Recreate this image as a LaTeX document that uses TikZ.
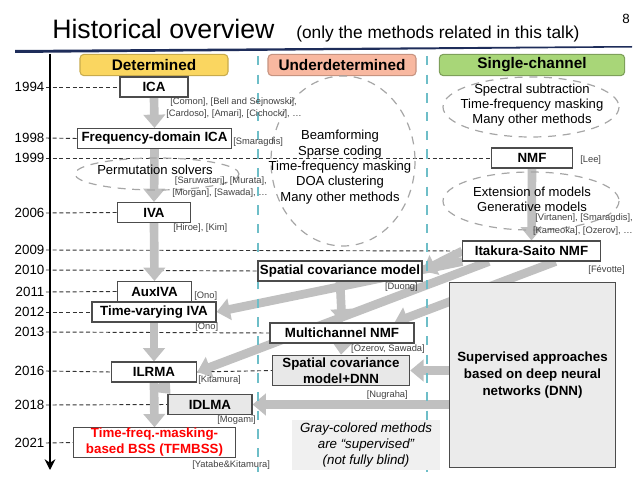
\documentclass[tikz,border=0pt]{standalone}
\usepackage{fontspec}
\setmainfont{Liberation Sans}
\usetikzlibrary{arrows.meta,shapes.geometric}
\pgfdeclarelayer{bg}
\pgfsetlayers{bg,main}
\definecolor{garrow}{RGB}{192,192,192}
\definecolor{cyanl}{RGB}{110,190,200}
\definecolor{hyel}{RGB}{250,214,96}
\definecolor{hred}{RGB}{248,184,160}
\definecolor{hgrn}{RGB}{168,214,120}
\definecolor{navy}{RGB}{30,45,90}
\begin{document}
\begin{tikzpicture}[x=0.75pt,y=-0.75pt,
  box/.style={draw=black!70,fill=white,line width=0.8pt,font=\bfseries\fontsize{10}{11}\selectfont,inner sep=0pt,align=center},
  gbox/.style={box,fill=black!9},
  hdr/.style={rounded corners=3pt,line width=0.8pt,font=\bfseries\fontsize{11.5}{13}\selectfont,minimum width=111pt,minimum height=16pt,inner sep=0pt},
  yr/.style={anchor=east,font=\fontsize{10}{11}\selectfont,inner sep=1pt},
  ref/.style={font=\fontsize{7}{7.5}\selectfont,text=black!75,inner sep=0pt},
  txt/.style={font=\fontsize{9.8}{11.5}\selectfont,align=center,inner sep=0pt},
  yline/.style={densely dashed,black!80,line width=0.7pt},
  ga/.style={draw=garrow,line width=6.5pt,-{Triangle[width=16pt,length=10pt]}},
  ell/.style={draw=black!35,dashed,dash pattern=on 6pt off 5pt,line width=0.9pt},
  cy/.style={draw=cyanl,line width=1.6pt,dash pattern=on 7pt off 7pt}]
\useasboundingbox (0,0) rectangle (638,478);
% title
\node[anchor=base west,inner sep=0pt,font=\fontsize{20}{22}\selectfont] (title) at (52,39) {Historical overview};
\node[anchor=base west,inner sep=0pt,font=\fontsize{13}{15}\selectfont] (sub) at (296,39) {(only the methods related in this talk)};
\node[font=\fontsize{10}{11}\selectfont] (pg) at (626,19) {8};
\coordinate (ul1) at (15,50); \coordinate (ul2) at (632,46);
\fill[navy] (ul1) -- (ul2) -- ++(0,1.5) -- (15,53) -- cycle;
% headers
\node[hdr,fill=hyel,draw=hyel!80!black] (hdet) at (154,65) {Determined};
\node[hdr,fill=hred,draw=hred!80!black] (hund) at (342,65) {Underdetermined};
\node[hdr,fill=hgrn,draw=hgrn!75!black,minimum width=139pt] (hsc) at (532,65) {Single-channel};
% cyan dividers
\coordinate (c1t) at (258,56); \coordinate (c1b) at (258,472);
\coordinate (c2t) at (427,56); \coordinate (c2b) at (427,472);
\draw[cy] (c1t) -- (c1b); \draw[cy] (c2t) -- (c2b);
% axis
\coordinate (axt) at (50,54); \coordinate (axb) at (50,470);
\draw[line width=2pt,-{Stealth[length=8pt,width=8pt]}] (axt) -- (axb);
% ellipses
\draw[ell] (343,161) ellipse [x radius=72,y radius=85];
\draw[ell] (531,107) ellipse [x radius=88,y radius=30];
\draw[ell] (531,201) ellipse [x radius=88,y radius=29];
\draw[ell] (157,174) ellipse [x radius=82,y radius=16];
% supervised box and note
\node[gbox,fill=black!8,minimum width=125pt,minimum height=139pt,font=\bfseries\fontsize{10}{12.5}\selectfont] (sup) at (532.5,375) {Supervised approaches\\based on deep neural\\networks (DNN)};
\node[fill=black!6,minimum width=111pt,minimum height=37pt,inner sep=0pt,font=\itshape\fontsize{10}{12}\selectfont,align=center] (note) at (366,445) {Gray-colored methods\\are “supervised”\\(not fully blind)};
% boxes
\node[box,minimum width=51pt,minimum height=15pt] (ica) at (154,87) {ICA};
\node[box,minimum width=115pt,minimum height=15pt] (fdica) at (154.5,138.5) {Frequency-domain ICA};
\node[box,minimum width=55pt,minimum height=15pt] (iva) at (154,212.5) {IVA};
\node[box,minimum width=56pt,minimum height=15pt] (aux) at (154.5,291.5) {AuxIVA};
\node[box,minimum width=93pt,minimum height=15pt] (tvi) at (154,312) {Time-varying IVA};
\node[box,minimum width=64pt,minimum height=15pt] (ilr) at (154,372) {ILRMA};
\node[gbox,minimum width=63pt,minimum height=15pt] (idl) at (210,404.5) {IDLMA};
\node[box,minimum width=121pt,minimum height=22pt,text=red,font=\bfseries\fontsize{10}{12}\selectfont] (tfm) at (154.5,442.5) {Time-freq.-masking-\\based BSS (TFMBSS)};
\node[box,minimum width=123pt,minimum height=15pt] (scm) at (340,271) {Spatial covariance model};
\node[box,minimum width=108pt,minimum height=15pt] (mnmf) at (342,333) {Multichannel NMF};
\node[gbox,minimum width=103pt,minimum height=23pt,font=\bfseries\fontsize{10}{12}\selectfont] (sdnn) at (341,370.5) {Spatial covariance\\model+DNN};
\node[box,minimum width=61pt,minimum height=15pt] (nmf) at (532,158) {NMF};
\node[box,minimum width=103pt,minimum height=15pt] (isnmf) at (531.5,251) {Itakura-Saito NMF};
% years
\foreach \yy/\pp in {1994/87,1998/138,1999/158,2006/213,2009/250,2010/270,2011/292,2012/312,2013/332,2016/371,2018/405,2021/443}
  \node[yr] (y\yy) at (46,\pp) {\yy};
% texts
\node[txt] (ut) at (340,167) {Beamforming\\Sparse coding\\Time-frequency masking\\DOA clustering\\Many other methods};
\node[txt] (st) at (532,105) {Spectral subtraction\\Time-frequency masking\\Many other methods};
\node[txt] (et) at (532,199) {Extension of models\\Generative models};
\node[txt] (pt) at (155,170) {Permutation solvers};
% refs
\node[ref,anchor=west] (r1) at (170,102) {[Comon], [Bell and Sejnowski],};
\node[ref,anchor=west] (r2) at (166,114) {[Cardoso], [Amari], [Cichocki], …};
\node[ref,anchor=west] (r3) at (233,142) {[Smaragdis]};
\node[ref,anchor=east] (r4) at (267,181) {[Saruwatari], [Murata],};
\node[ref,anchor=east] (r5) at (268,193) {[Morgan], [Sawada], …};
\node[ref,anchor=west] (r6) at (173,228) {[Hiroe], [Kim]};
\node[ref,anchor=west] (r7) at (194,296) {[Ono]};
\node[ref,anchor=west] (r8) at (195,327) {[Ono]};
\node[ref,anchor=west] (r9) at (198,380) {[Kitamura]};
\node[ref,anchor=east] (r10) at (256,420) {[Mogami]};
\node[ref,anchor=west] (r11) at (192,465) {[Yatabe\&Kitamura]};
\node[ref,anchor=east] (r12) at (418,287) {[Duong]};
\node[ref,anchor=east] (r13) at (425,349) {[Ozerov, Sawada]};
\node[ref,anchor=east] (r14) at (408,395) {[Nugraha]};
\node[ref,anchor=west] (r15) at (580,160) {[Lee]};
\node[ref,anchor=east] (r16) at (633,218) {[Virtanen], [Smaragdis],};
\node[ref,anchor=east] (r17) at (633,231) {[Kameoka], [Ozerov], …};
\node[ref,anchor=east] (r18) at (625,270) {[Févotte]};
% background: year lines and gray arrows
\begin{pgfonlayer}{bg}
\draw[yline] (y1994.east) -- (ica.west);
\draw[yline] (y1998.east) -- (fdica.west);
\draw[yline] (y1999.east) -- (nmf.west);
\draw[yline] (y2006.east) -- (iva.west);
\draw[yline] (y2009.east) -- (isnmf.west);
\draw[yline] (y2010.east) -- (scm.west);
\draw[yline] (y2011.east) -- (aux.west);
\draw[yline] (y2012.east) -- (tvi.west);
\draw[yline] (y2013.east) -- (mnmf.west);
\draw[yline] (y2016.east) -- (ilr.west);
\draw[yline] (ilr.east) -- (sdnn.west);
\draw[yline] (y2018.east) -- (idl.west);
\draw[yline] (y2021.east) -- (tfm.west);
\draw[ga] (ica.south) -- (fdica.north);
\draw[ga] (fdica.south) -- (iva.north);
\draw[ga] (iva.south) -- (aux.north);
\draw[ga] (tvi.south) -- (ilr.north);
\draw[ga] (ilr.south) -- (tfm.north);
\draw[ga] ([xshift=-28]ilr.south east) -- ([xshift=-20]idl.north -| ilr.south east);
\draw[ga] (nmf.south) -- (isnmf.north);
\draw[ga] (scm.south) -- (mnmf.north);
\draw[ga] (mnmf.south) -- (sdnn.north);
\draw[ga] (isnmf.south west) -- (tvi.east);
\draw[ga] (isnmf.west) -- (scm.east);
\draw[ga] ([xshift=20]isnmf.south west) -- (ilr.east);
\draw[ga] ([xshift=70]isnmf.south west) -- ([xshift=-15]mnmf.north east);
\draw[ga] (sup.west |- sdnn) -- (sdnn.east);
\draw[ga] (sup.west |- idl) -- (idl.east);
\end{pgfonlayer}
\end{tikzpicture}
\end{document}
